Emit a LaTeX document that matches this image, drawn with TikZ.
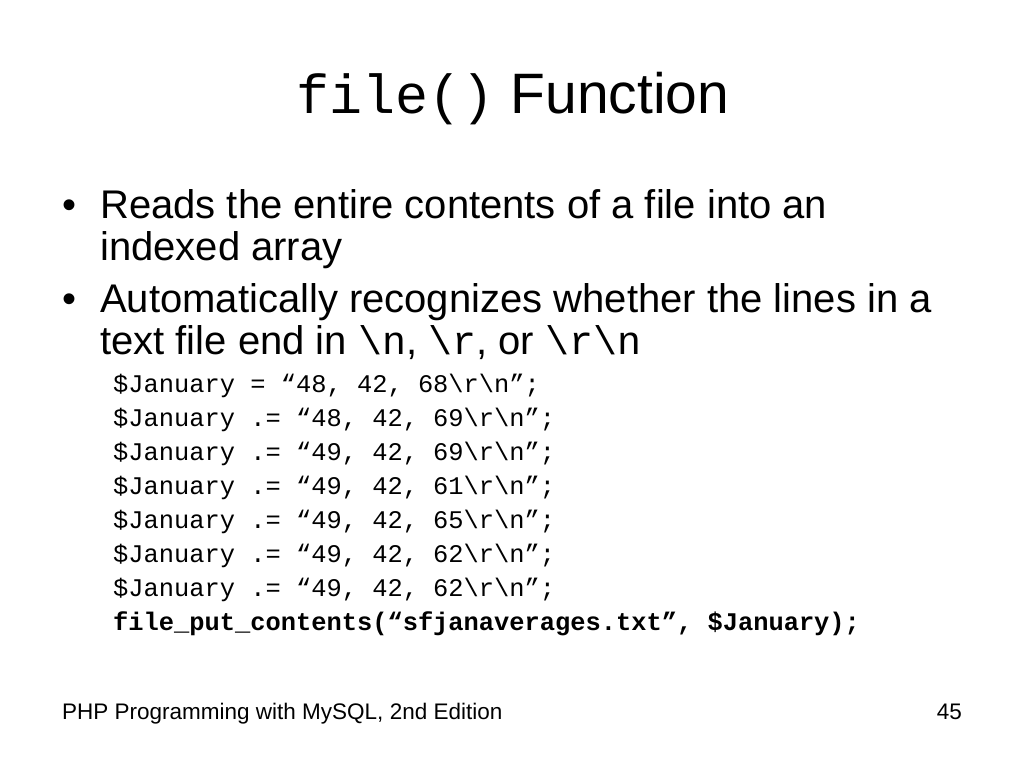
\documentclass[tikz,border=0pt]{standalone}
\usepackage{fontspec}
\setmainfont{Liberation Sans}
\setmonofont{Liberation Mono}
\begin{document}
\begin{tikzpicture}[x=1pt,y=-1pt,
  bul/.style={anchor=base west,inner sep=0pt,font=\fontsize{40}{40}\selectfont},
  code/.style={anchor=base west,inner sep=0pt,font=\ttfamily\fontsize{25.4}{25.4}\selectfont},
  foot/.style={inner sep=0pt,font=\fontsize{22.5}{22.5}\selectfont}]
\useasboundingbox (0,0) rectangle (1024,768);
\node[anchor=base,inner sep=0pt,font=\fontsize{57}{57}\selectfont] (title) at (513,113) {{\ttfamily\fontsize{55}{55}\selectfont file()} Function};
\node[bul] (b1) at (62,218) {•};
\node[bul] (t1) at (100,218) {Reads the entire contents of a file into an};
\node[bul] (t1b) at (100,260) {indexed array};
\node[bul] (b2) at (62,312) {•};
\node[bul] (t2) at (100,312) {Automatically recognizes whether the lines in a};
\node[bul] (t2b) at (100,354) {text file end in {\ttfamily\textbackslash n}, {\ttfamily\textbackslash r}, or {\ttfamily\textbackslash r\textbackslash n}};
\node[code] (c1) at (113,392) {\$January = “48, 42, 68\textbackslash r\textbackslash n”;};
\node[code] (c2) at (113,426) {\$January .= “48, 42, 69\textbackslash r\textbackslash n”;};
\node[code] (c3) at (113,460) {\$January .= “49, 42, 69\textbackslash r\textbackslash n”;};
\node[code] (c4) at (113,494) {\$January .= “49, 42, 61\textbackslash r\textbackslash n”;};
\node[code] (c5) at (113,528) {\$January .= “49, 42, 65\textbackslash r\textbackslash n”;};
\node[code] (c6) at (113,562) {\$January .= “49, 42, 62\textbackslash r\textbackslash n”;};
\node[code] (c7) at (113,596) {\$January .= “49, 42, 62\textbackslash r\textbackslash n”;};
\node[code,font=\ttfamily\bfseries\fontsize{25.4}{25.4}\selectfont] (c8) at (113,630) {file\_put\_contents(“sfjanaverages.txt”, \$January);};
\node[foot,anchor=base west] (f1) at (62,719) {PHP Programming with MySQL, 2nd Edition};
\node[foot,anchor=base east] (f2) at (962,719) {45};
\end{tikzpicture}
\end{document}
